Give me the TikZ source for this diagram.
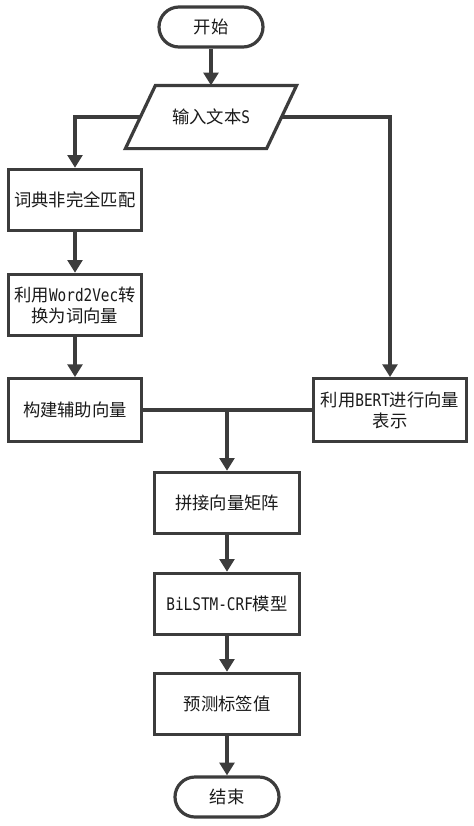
\documentclass[tikz,border=0pt]{standalone}
\usepackage{fontspec}
\setmainfont{Noto Sans CJK SC}
\newfontfamily\latmono{DejaVu Sans Mono}[FakeStretch=0.83]
\newcommand{\lt}[1]{{\latmono\fontsize{13}{15.8}\selectfont #1}}
\usetikzlibrary{arrows.meta,calc}
\begin{document}
\begin{tikzpicture}[x=0.75pt,y=-0.75pt,
  ln/.style={draw=lc,line width=2.4pt},
  arr/.style={ln,-{Triangle[length=9.5pt,width=11pt]}},
  proc/.style={ln,rectangle,inner sep=0pt,align=center,font=\fontsize{13}{15.8}\selectfont,text=tc},
  term/.style={proc,rounded corners=15pt,minimum width=78pt,minimum height=30pt},
]
\definecolor{lc}{HTML}{3C3C3C}
\definecolor{tc}{HTML}{1A1A1A}
\useasboundingbox[fill=white] (0,0) rectangle (474,826);
\node[term] (start) at (211,27) {开始};
\node[proc,draw=none,minimum width=103.5pt,minimum height=45pt] (inp) at (211,117) {输入文本\lt{S}};
\draw[ln,line join=miter] ([xshift=-15pt*0.75]inp.south west) -- ([xshift=-15pt*0.75]inp.south east)
  -- ([xshift=15pt*0.75]inp.north east) -- ([xshift=15pt*0.75]inp.north west) -- cycle;
\node[proc,minimum width=100pt,minimum height=46pt] (b1) at (75,200) {词典非完全匹配};
\node[proc,minimum width=100pt,minimum height=46pt] (b2) at (75,305) {利用\lt{Word2Vec}转\\换为词向量};
\node[proc,minimum width=100pt,minimum height=47pt] (b3) at (75,410) {构建辅助向量};
\node[proc,minimum width=115pt,minimum height=47pt] (bert) at (390,410) {利用\lt{BERT}进行向量\\表示};
\node[proc,minimum width=109pt,minimum height=46pt] (cat) at (227,503) {拼接向量矩阵};
\node[proc,minimum width=109pt,minimum height=46pt] (bil) at (227,604) {\lt{BiLSTM-CRF}模型};
\node[proc,minimum width=109pt,minimum height=46pt] (pred) at (227,704) {预测标签值};
\node[term] (end) at (227,797) {结束};

\draw[arr] (start) -- (inp.north -| start);
\draw[arr] (inp.west) -| (b1.north);
\draw[arr] (inp.east) -| (bert.north);
\draw[arr] (b1) -- (b2);
\draw[arr] (b2) -- (b3);
\draw[ln] (b3.east) -- (bert.west);
\coordinate (j) at (b3.east -| cat.north);
\draw[arr] (j) -- (cat.north);
\draw[arr] (cat) -- (bil);
\draw[arr] (bil) -- (pred);
\draw[arr] (pred) -- (end);
\end{tikzpicture}
\end{document}
